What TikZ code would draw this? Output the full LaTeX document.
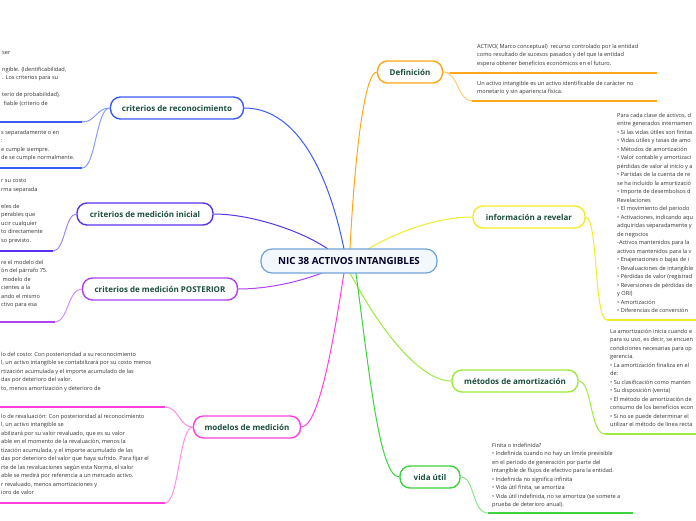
\documentclass[tikz,border=0pt]{standalone}
\usepackage{fontspec}
\setmainfont{Open Sans}
\begin{document}
\begin{tikzpicture}[x=1pt,y=-1pt,
  topic/.style={draw,line width=1.4pt,rounded corners=10pt,fill=white,minimum height=22pt,inner xsep=9pt,font=\fontsize{8}{9}\selectfont\bfseries,text=titlecol},
  para/.style={anchor=north west,align=left,inner sep=0pt,font=\fontsize{5.6}{8.5}\selectfont,text=black!80},
  lnk/.style={line width=1pt},
  ul/.style={line width=2pt}]
\definecolor{titlecol}{HTML}{1B4D3E}
\definecolor{cOr}{HTML}{FFA719}
\definecolor{cYe}{HTML}{F0EC2A}
\definecolor{cLg}{HTML}{9BEA3C}
\definecolor{cGr}{HTML}{3ED33E}
\definecolor{cBl}{HTML}{3A5CF5}
\definecolor{cIn}{HTML}{5A32EE}
\definecolor{cPu}{HTML}{B040F0}
\definecolor{cMa}{HTML}{FF40DE}
\definecolor{cCe}{HTML}{6FA3D8}
\useasboundingbox (0,0) rectangle (696,520);
\clip (0,0) rectangle (696,520);

% anchor coordinates on central node
\coordinate (cT1) at (328,249);
\coordinate (cT2) at (344,249);
\coordinate (cT3) at (350,249);
\coordinate (cT4) at (368,249);
\coordinate (cB1) at (322,273);
\coordinate (cB2) at (344,273);
\coordinate (cB3) at (350,273);
\coordinate (cB4) at (356,273);

% topic nodes
\node[topic,draw=cOr,minimum width=65pt] (def) at (410,72) {Definición};
\node[topic,draw=cYe,minimum width=112pt] (info) at (529,217) {información a revelar};
\node[topic,draw=cLg,minimum width=126pt] (met) at (515,381) {métodos de amortización};
\node[topic,draw=cGr,minimum width=60pt] (vida) at (430,477) {vida útil};
\node[topic,draw=cBl,minimum width=133pt] (rec) at (177,108) {criterios de reconocimiento};
\node[topic,draw=cIn,minimum width=136pt] (ini) at (145,214) {criterios de medición inicial};
\node[topic,draw=cPu,minimum width=155pt] (pos) at (160,289) {criterios de medición POSTERIOR};
\node[topic,draw=cMa,minimum width=107pt] (mod) at (247,427) {modelos de medición};

% connectors center -> topics
\draw[lnk,cIn] (cT1) .. controls (300,230) and (250,214) .. (ini.east);
\draw[lnk,cBl] (cT2) .. controls (330,180) and (300,108) .. (rec.east);
\draw[lnk,cOr] (cT3) .. controls (355,150) and (365,72) .. (def.west);
\draw[lnk,cYe] (cT4) .. controls (400,230) and (440,217) .. (info.west);
\draw[lnk,cPu] (cB1) .. controls (290,285) and (260,289) .. (pos.east);
\draw[lnk,cMa] (cB2) .. controls (335,330) and (320,427) .. (mod.east);
\draw[lnk,cLg] (cB3) .. controls (380,330) and (420,381) .. (met.west);
\draw[lnk,cGr] (cB4) .. controls (370,380) and (380,477) .. (vida.west);

% central node
\node[draw=cCe,line width=1.2pt,fill=cCe!8,rounded corners=11pt,minimum width=176pt,minimum height=24pt,font=\fontsize{9.8}{11}\selectfont\bfseries,text=black!85!blue] (ctr) at (349,261) {NIC 38 ACTIVOS INTANGIBLES};

% underlines + branch curves
\coordinate (d1) at (450,73); \coordinate (d1e) at (657,73);
\coordinate (d2) at (472,101); \coordinate (d2e) at (657,101);
\draw[lnk,cOr!60] (def.east) .. controls (446,72) and (446,73) .. (d1);
\draw[lnk,cOr!60] (def.east) .. controls (458,72) and (458,101) .. (d2);
\draw[ul,cOr] (d1) -- (d1e); \draw[ul,cOr] (d2) -- (d2e);

\coordinate (i1) at (607,320); \coordinate (i1e) at (696,320);
\draw[lnk,cYe] (info.east) .. controls (598,217) and (594,320) .. (i1);
\draw[ul,cYe] (i1) -- (i1e);

\coordinate (m1) at (605,434); \coordinate (m1e) at (696,434);
\draw[lnk,cLg] (met.east) .. controls (592,381) and (590,434) .. (m1);
\draw[ul,cLg] (m1) -- (m1e);

\coordinate (v1) at (488,513); \coordinate (v1e) at (633,513);
\draw[lnk,cGr!60] (vida.east) .. controls (475,477) and (472,513) .. (v1);
\draw[ul,cGr] (v1) -- (v1e);

\coordinate (r1) at (82,122); \coordinate (r1s) at (0,122);
\coordinate (r2) at (82,168); \coordinate (r2s) at (0,168);
\draw[lnk,cBl!60] (rec.west) .. controls (96,108) and (96,122) .. (r1);
\draw[lnk,cBl!60] (rec.west) .. controls (96,108) and (96,168) .. (r2);
\draw[ul,cBl] (r1s) -- (r1); \draw[ul,cBl] (r2s) -- (r2);

\coordinate (n1) at (53,251); \coordinate (n1s) at (0,251);
\draw[lnk,cIn!60] (ini.west) .. controls (65,214) and (65,251) .. (n1);
\draw[ul,cIn] (n1s) -- (n1);

\coordinate (p1) at (55,322); \coordinate (p1s) at (0,322);
\draw[lnk,cPu!60] (pos.west) .. controls (68,289) and (68,322) .. (p1);
\draw[ul,cPu] (p1s) -- (p1);

\coordinate (o1) at (165,407); \coordinate (o1s) at (0,407);
\coordinate (o2) at (165,503); \coordinate (o2s) at (0,503);
\draw[lnk,cMa!60] (mod.west) .. controls (179,427) and (179,407) .. (o1);
\draw[lnk,cMa!60] (mod.west) .. controls (179,427) and (179,503) .. (o2);
\draw[ul,cMa] (o1s) -- (o1); \draw[ul,cMa] (o2s) -- (o2);

% texts
\node[para] (t1) at (477,44) {ACTIVO( Marco conceptual)~ recurso controlado por la entidad\\como resultado de sucesos pasados y del que la entidad\\espera obtener beneficios económicos en el futuro.};
\node[para] (t2) at (477,81) {Un activo intangible es un activo identificable de carácter no\\monetario y sin apariencia física.};
\node[para] (t3) at (617,113) {Para cada clase de activos, d\\entre generados internamen\\• Si las vidas útiles son finitas\\• Vidas útiles y tasas de amo\\• Métodos de amortización\\• Valor contable y amortizaci\\pérdidas de valor al inicio y a\\• Partidas de la cuenta de re\\se ha incluido la amortizació\\• Importe de desembolsos d\\Revelaciones\\• El movimiento del periodo\\• Activaciones, indicando aqu\\adquiridas separadamente y\\de negocios\\-Activos mantenidos para la\\activos mantenidos para la v\\• Enajenaciones o bajas de i\\• Revaluaciones de intangible\\• Pérdidas de valor (registrad\\• Reversiones de pérdidas de\\y ORI)\\• Amortización\\• Diferencias de conversión};
\node[para] (t4) at (610,329) {La amortización inicia cuando e\\para su uso, es decir, se encuen\\condiciones necesarias para op\\gerencia.\\• La amortización finaliza en el\\de:\\• Su clasificación como manten\\• Su disposición (venta)\\• El método de amortización de\\consumo de los beneficios econ\\• Si no se puede determinar el\\utilizar el método de línea recta};
\node[para] (t5) at (492,443) {Finita o indefinida?\\• Indefinida cuando no hay un límite previsible\\en el periodo de generación por parte del\\intangible de flujos de efectivo para la entidad.\\• Indefinida no significa infinita\\• Vida útil finita, se amortiza\\• Vida útil indefinida, no se amortiza (se somete a\\prueba de deterioro anual).};
\node[para] (t6) at (2,51) {ser\\\mbox{}\\ngible. (Identificabilidad,\\. Los criterios para su\\\mbox{}\\terio de probabilidad),\\~fiable (criterio de};
\node[para] (t7) at (1,130) {s separadamente o en\\:\\e cumple siempre.\\de se cumple normalmente.};
\node[para] (t8) at (1,179) {r su costo\\rma separada\\\mbox{}\\eles de\\perables que\\ucir cualquier\\to directamente\\so previsto.};
\node[para] (t9) at (1,260) {re el modelo del\\ón del párrafo 75.\\~modelo de\\cientes a la\\ando el mismo\\ctivo para esa};
\node[para] (t10) at (1,352) {lo del costo: Con posterioridad a su reconocimiento\\l, un activo intangible se contabilizará por su costo menos\\rtización acumulada y el importe acumulado de las\\das por deterioro del valor.\\to, menos amortización y deterioro de};
\node[para] (t11) at (1,414) {lo de revaluación: Con posterioridad al reconocimiento\\l, un activo intangible se\\abilizará por su valor revaluado, que es su valor\\able en el momento de la revaluación, menos la\\tización acumulada, y el importe acumulado de las\\das por deterioro del valor que haya sufrido. Para fijar el\\rte de las revaluaciones según esta Norma, el valor\\able se medirá por referencia a un mercado activo.\\r revaluado, menos amortizaciones y\\ioro de valor};
\end{tikzpicture}
\end{document}
